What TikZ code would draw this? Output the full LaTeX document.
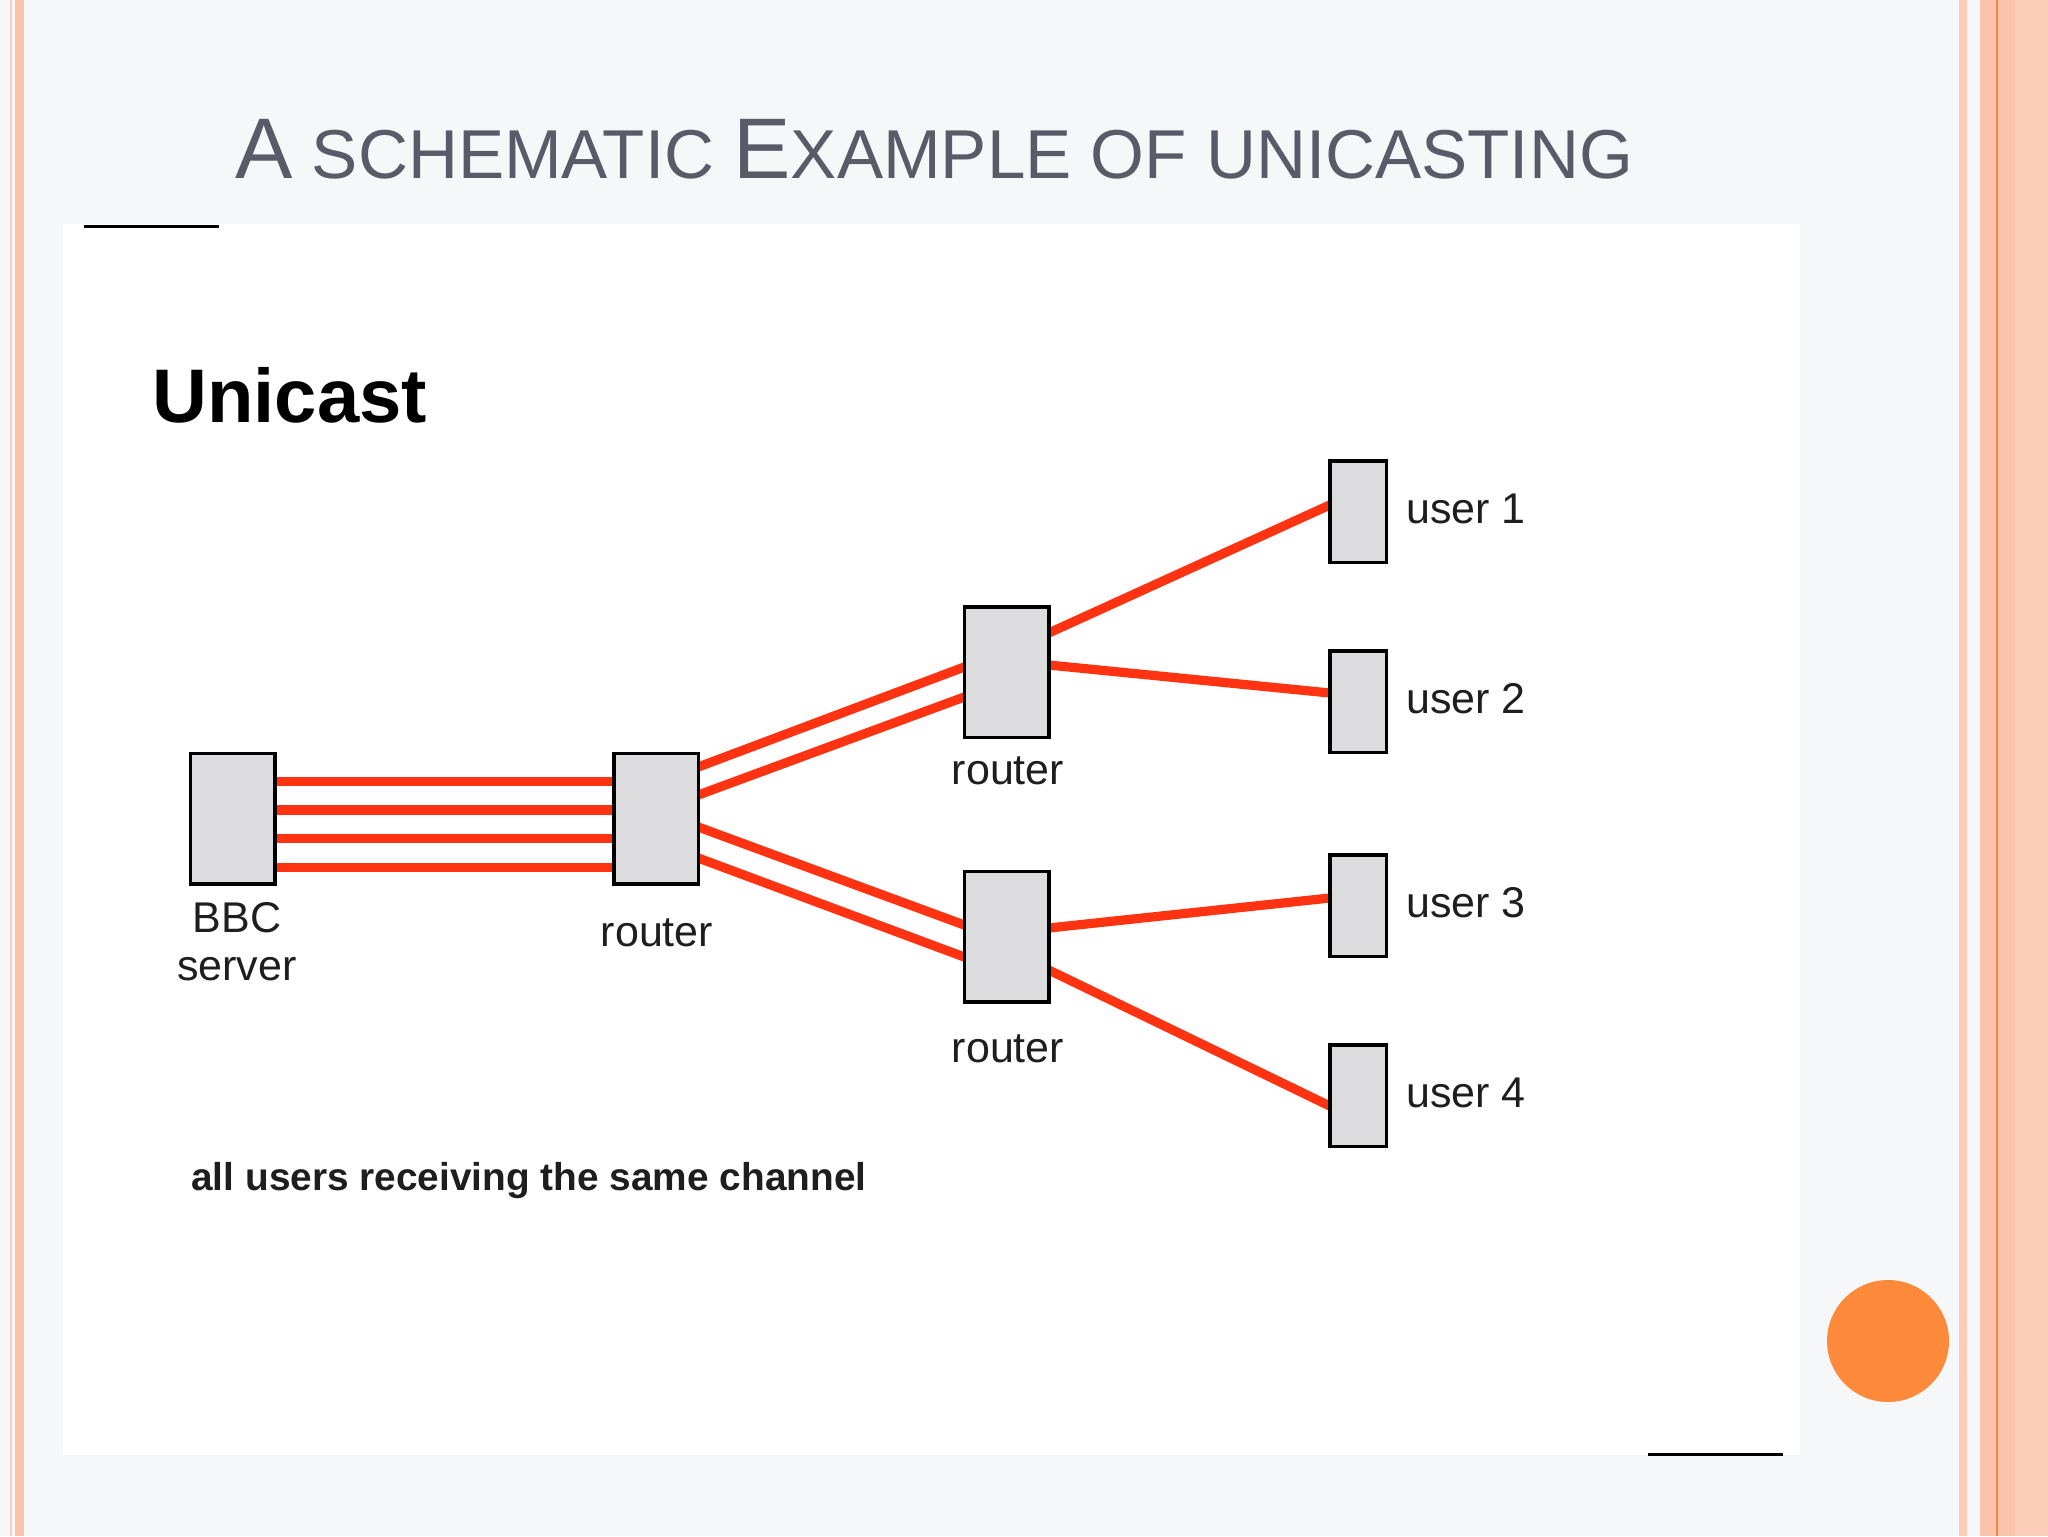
\documentclass[tikz,border=0pt]{standalone}
\usepackage{fontspec}
\setmainfont{Liberation Sans}
\usetikzlibrary{calc}
\definecolor{slidebg}{HTML}{F6F7F9}
\definecolor{peach}{HTML}{FBC3A9}
\definecolor{peachlight}{HTML}{FCCDB8}
\definecolor{orangeline}{HTML}{F4874B}
\definecolor{dotorange}{HTML}{FD8A3A}
\definecolor{titlegray}{HTML}{595C68}
\definecolor{wire}{HTML}{FF3311}
\definecolor{boxfill}{HTML}{DCDCDE}
\definecolor{labelcol}{HTML}{1E1E1E}
\pgfdeclarelayer{backdrop}
\pgfdeclarelayer{wires}
\pgfsetlayers{backdrop,wires,main}
\newcommand\ttlbig{\fontsize{43}{50}\selectfont}
\newcommand\ttlsmall{\fontsize{34.6}{40}\selectfont}
\begin{document}
\begin{tikzpicture}[x=0.5pt,y=-0.5pt,
  netbox/.style={draw=black, line width=1.75pt, fill=boxfill, inner sep=0pt, outer sep=0pt, minimum width=42.25pt, minimum height=65.25pt},
  userbox/.style={netbox, minimum width=28.25pt, minimum height=50.75pt},
  wireline/.style={draw=wire, line width=4.6pt},
  lbl/.style={font=\fontsize{21.5}{24}\selectfont, text=labelcol, inner sep=0pt},
]
\useasboundingbox (0,0) rectangle (2048,1536);
\begin{pgfonlayer}{backdrop}
  \fill[slidebg] (0,0) rectangle (2048,1536);
  % left border stripes
  \fill[peachlight] (10,0) rectangle (12,1536);
  \fill[peach] (15,0) rectangle (24,1536);
  % right border stripes
  \fill[peachlight] (1958.5,0) rectangle (1966.5,1536);
  \fill[peach] (1980,0) rectangle (2048,1536);
  \fill[peachlight] (2015,0) rectangle (2048,1536);
  \fill[orangeline] (1995.5,0) rectangle (1998,1536);
  % white panel
  \fill[white] (63,224) rectangle (1800,1455);
\end{pgfonlayer}

% decorative rules and dot
\draw[black, line width=1.5pt] (84,226) -- (219,226);
\draw[black, line width=1.5pt] (1648,1454) -- (1783,1454);
\fill[dotorange] (1888,1341) circle[radius=61];

% title
\node[anchor=base west, inner sep=0pt, text=titlegray] (title) at (235,178)
  {\ttlbig A\ttlsmall{} SCHEMATIC \ttlbig E\ttlsmall XAMPLE OF UNICASTING};

% heading and caption
\node[anchor=base west, inner sep=0pt, font=\fontsize{38}{44}\selectfont\bfseries] (head) at (152,422) {Unicast};
\node[anchor=base west, inner sep=0pt, text=labelcol, font=\fontsize{19.4}{22}\selectfont\bfseries] (caption) at (191,1190) {all users receiving the same channel};

% boxes
\node[netbox] (bbc) at (232.5,818.5) {};
\node[netbox] (r1) at (656,818.5) {};
\node[netbox] (r2) at (1006.5,672) {};
\node[netbox] (r3) at (1006.5,936.5) {};
\node[userbox] (u1) at (1358,511.5) {};
\node[userbox] (u2) at (1358,701.5) {};
\node[userbox] (u3) at (1358,905.5) {};
\node[userbox] (u4) at (1358,1095.5) {};

% labels
\node[lbl, anchor=base] (lbbc) at (237,932) {BBC};
\node[lbl, anchor=base] (lsrv) at (237,980) {server};
\node[lbl, anchor=base] (lr1) at (657,946) {router};
\node[lbl, anchor=base] (lr2) at (1008,784) {router};
\node[lbl, anchor=base] (lr3) at (1008,1062) {router};
\node[lbl, anchor=base west] (lu1) at (1406,523) {user 1};
\node[lbl, anchor=base west] (lu2) at (1406,713) {user 2};
\node[lbl, anchor=base west] (lu3) at (1406,917) {user 3};
\node[lbl, anchor=base west] (lu4) at (1406,1107) {user 4};

% wires
\begin{pgfonlayer}{wires}
  \foreach \dy in {-37,-8.5,20,49}
    \draw[wireline] ($(bbc.east)+(0,\dy)$) -- ($(r1.west)+(0,\dy)$);
  \draw[wireline] ($(r1.east)+(0,-51.5)$) -- ($(r2.west)+(0,-5)$);
  \draw[wireline] ($(r1.east)+(0,-23.5)$) -- ($(r2.west)+(0,25)$);
  \draw[wireline] ($(r1.east)+(0,8.5)$) -- ($(r3.west)+(0,-11.5)$);
  \draw[wireline] ($(r1.east)+(0,39.5)$) -- ($(r3.west)+(0,20.5)$);
  \draw[wireline] ($(r2.east)+(0,-39)$) -- ($(u1.west)+(0,-6.5)$);
  \draw[wireline] ($(r2.east)+(0,-7)$) -- ($(u2.west)+(0,-8.5)$);
  \draw[wireline] ($(r3.east)+(0,-8.5)$) -- ($(u3.west)+(0,-7.5)$);
  \draw[wireline] ($(r3.east)+(0,33.5)$) -- ($(u4.west)+(0,10.5)$);
\end{pgfonlayer}
\end{tikzpicture}
\end{document}
